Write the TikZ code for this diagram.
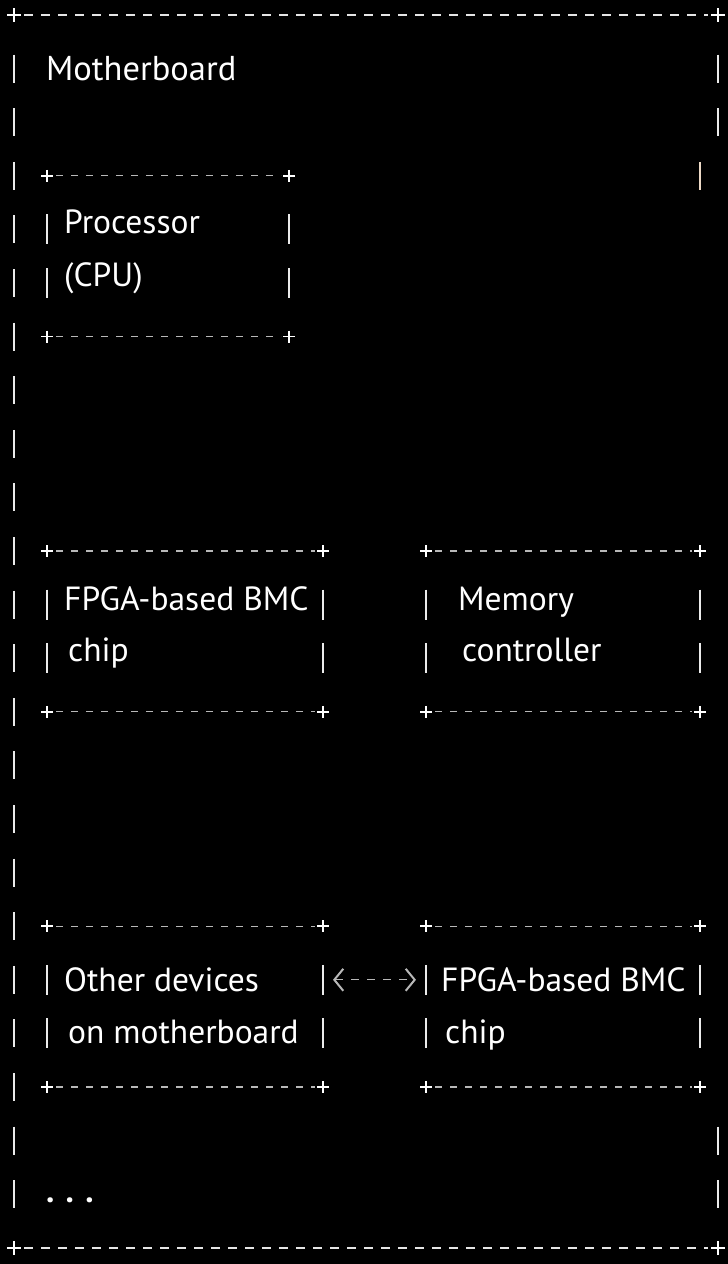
\documentclass[tikz,border=0pt]{standalone}
\usepackage{fontspec}
\setmainfont{PT Sans}
\usetikzlibrary{arrows.meta}
\usetikzlibrary{positioning}

\newcommand{\asciibox}[4]{%
  \foreach \xx in {#1,#2}
    \foreach \r in {#3,#3+3}
      \draw[corner] (\xx-6,{rw(\r)}) -- (\xx+6,{rw(\r)}) (\xx,{rw(\r)-6}) -- (\xx,{rw(\r)+6});
  \foreach \r in {#3,#3+3}
    \draw[frame] (#1+9,{rw(\r)}) -- (#2-8,{rw(\r)});
  \foreach \xx in {#1,#2}
    \foreach \r in {#3+1,#3+2}
      \draw[bar] (\xx,{rw(\r)-15}) -- (\xx,{rw(\r)+15});
  \coordinate (#4-w) at (#1,{rw(#3+1)});
  \coordinate (#4-e) at (#2,{rw(#3+1)});
}

\begin{document}
\begin{tikzpicture}[x=1pt,y=-1pt,declare function={rw(\r)=15+53.6*\r;},
  bar/.style={line width=2.6pt,white!92!black},
  rim/.style={white!90!black,line width=1.5pt,dash pattern=on 9pt off 8pt},
  frame/.style={white!72!black,line width=1.1pt,dash pattern=on 7pt off 8pt},
  corner/.style={white,line width=1.6pt},
  link/.style={white!72!black,line width=1.2pt,dash pattern=on 8pt off 8pt,
    {Straight Barb[length=9pt,width=22pt,line width=2pt]}-{Straight Barb[length=9pt,width=22pt,line width=2pt]}}]
  \fill[black] (0,0) rectangle (728,1264);
  \useasboundingbox (0,0) rectangle (728,1264);
  % outer board
  \foreach \xx/\r in {14/0,718/0,14/23,718/23}
    \draw[corner] (\xx-7,{rw(\r)}) -- (\xx+7,{rw(\r)}) (\xx,{rw(\r)-7}) -- (\xx,{rw(\r)+7});
  \foreach \r in {0,23}
    \draw[rim] (24,{rw(\r)}) -- (708,{rw(\r)});
  \foreach \r in {1,...,22}
    \draw[bar] (14,{rw(\r)-14}) -- (14,{rw(\r)+14});
  \foreach \r in {1,2,21,22}
    \draw[bar] (718,{rw(\r)-14}) -- (718,{rw(\r)+14});
  \draw[bar,line width=1.6pt,white!70!brown] (700,{rw(3)-14}) -- (700,{rw(3)+14});
  % boxes
  \asciibox{47}{289}{3}{cpu}
  \asciibox{47}{323}{10}{bmc}
  \asciibox{426}{700}{10}{mem}
  \asciibox{47}{323}{17}{oth}
  \asciibox{426}{700}{17}{bmcb}
  \draw[link,shorten <=10pt,shorten >=10pt] (oth-e) -- (bmcb-w);
  \begin{scope}[every node/.style={anchor=base west,text=white,inner sep=0pt,font=\fontsize{33.5}{38}\selectfont}]
    \node[font=\fontsize{34.5}{40}\selectfont] (board) at (46,{rw(1)+12}) {Motherboard};
    \node (cpu1) at (64,{rw(4)+4}) {Processor};
    \node (cpu2) at (64,{rw(5)+3}) {(CPU)};
    \node (bmc1) at (64,{rw(11)+6}) {FPGA-based BMC};
    \node (bmc2) at (68,{rw(12)+3}) {chip};
    \node (mem1) at (458,{rw(11)+6}) {Memory};
    \node (mem2) at (462,{rw(12)+3}) {controller};
    \node (oth1) at (64,{rw(18)+12}) {Other devices};
    \node (oth2) at (68,{rw(19)+10}) {on motherboard};
    \node (bmcb1) at (441,{rw(18)+12}) {FPGA-based BMC};
    \node (bmcb2) at (445,{rw(19)+10}) {chip};
    \node[font=\bfseries\fontsize{33.5}{38}\selectfont] (more) at (46,{rw(22)+8}) {. . .};
  \end{scope}
\end{tikzpicture}
\end{document}
